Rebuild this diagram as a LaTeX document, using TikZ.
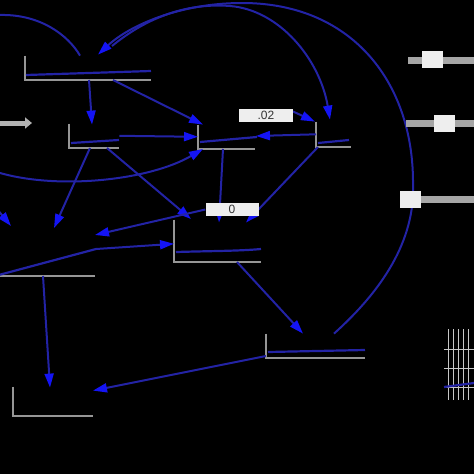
\documentclass[tikz,border=0pt]{standalone}
\usepackage{fontspec}
\setmainfont{Liberation Sans}
\usetikzlibrary{arrows.meta,positioning}
\definecolor{flowline}{RGB}{35,35,165}
\definecolor{flowhead}{RGB}{20,20,245}
\definecolor{axisgray}{RGB}{150,150,150}
\definecolor{boxwhite}{RGB}{238,238,238}

\begin{document}
\begin{tikzpicture}[x=1pt,y=-1pt,
  flow/.style={flowline, line width=2pt, -{Triangle[length=14pt,width=9pt,color=flowhead]}},
  axes/.style={axisgray, line width=1.3pt},
  trace/.style={flowline, line width=2.2pt},
  panel/.style={draw=none, inner sep=0pt, anchor=south west},
  numbox/.style={fill=boxwhite, inner sep=0pt, minimum width=54pt, minimum height=12.5pt,
    font=\fontsize{12}{12}\selectfont, text=black!80},
  knob/.style={fill=boxwhite, inner sep=0pt, minimum width=21pt, minimum height=17pt},
  bar/.style={black!35, line width=7pt},
  grid line/.style={black!22, line width=0.9pt}]

  \useasboundingbox (0,0) rectangle (474,474);
  \fill[black] (0,0) rectangle (474,474);
  \clip (0,0) rectangle (474,474);

  % panels
  \node[panel, minimum width=126pt, minimum height=24pt] (A) at (25,80) {};
  \node[panel, minimum width=50pt, minimum height=24pt] (B) at (69,148) {};
  \node[panel, minimum width=57pt, minimum height=24pt] (C) at (198,149) {};
  \node[panel, minimum width=35pt, minimum height=25pt] (D) at (316,147) {};
  \node[panel, minimum width=87pt, minimum height=42pt] (E) at (174,262) {};
  \node[panel, minimum width=125pt, minimum height=30pt] (F) at (-30,276) {};
  \node[panel, minimum width=80pt, minimum height=29pt] (G) at (13,416) {};
  \node[panel, minimum width=99pt, minimum height=24pt] (H) at (266,358) {};
  \foreach \p in {A,B,C,D,E,F,G,H}
    \draw[axes] (\p.north west) -- (\p.south west) -- (\p.south east);

  % traces
  \draw[trace] (26,75) -- (151,71);
  \draw[trace] (71,143) -- (119,140);
  \draw[trace] (200,142) -- (257,137);
  \draw[trace] (318,143) -- (349,140);
  \draw[trace] (176,252) .. controls (210,251) and (240,251) .. (261,249);
  \draw[trace] (-5,276) -- (96,249) coordinate (Fend);
  \draw[trace] (268,352) -- (365,350);

  \coordinate (rate) at (266,115.5);
  \coordinate (zero) at (232,209.5);

  % connectors
  \draw[flowline, line width=2pt] (0,15) .. controls (40,14) and (68,35) .. ([xshift=55pt]A.north west);
  \draw[flow] (112,46) .. controls (150,15) and (190,3) .. (230,6)
    .. controls (280,10) and (320,60) .. ([xshift=14pt,yshift=2pt]D.north west);
  \draw[flow] ([xshift=68pt]H.north west) .. controls (388,285) and (416,235) .. (413,180)
    .. controls (412,80) and (350,2) .. (240,3)
    .. controls (180,3.5) and (130,25) .. ([xshift=73pt,yshift=1pt]A.north west);
  \draw[flow] ([xshift=64pt]A.south west) -- ([xshift=23pt,yshift=-1pt]B.north west);
  \draw[flow] ([xshift=88pt]A.south west) -- ([xshift=5pt]C.north west);
  \draw[flow] (B.east) -- (C.west);
  \draw[flow] (0,173) .. controls (60,190) and (150,180) .. ([xshift=5pt]C.south west);
  \draw[flow] ([xshift=21pt]B.south west) -- (54,228);
  \draw[flow] ([xshift=38pt]B.south west) -- (191,219);
  \draw[flow] (-8,203) -- (11,226);
  \draw[flow] (D.west) -- (256,136);
  \draw[flow] ([xshift=25pt]C.south west) -- ([xshift=-13pt,yshift=-13pt]zero);
  \draw[flow] ([xshift=2pt]D.south west) -- ([xshift=14pt,yshift=-13pt]zero);
  \draw[flow] ([xshift=27pt,yshift=4pt]rate) -- ([xshift=-1pt]D.north west);
  \draw[flow] (Fend) -- ([yshift=-3pt]E.west);
  \draw[flow] ([xshift=63pt]E.south west) -- ([xshift=37pt]H.north west);
  \draw[flow] ([xshift=73pt]F.south west) -- ([xshift=37pt,yshift=-1pt]G.north west);
  \draw[flow] ([yshift=2pt]H.south west) -- ([xshift=80pt,yshift=-4pt]G.north west);

  % number boxes over the arrow ends
  \node[numbox] (ratebox) at (rate) {.02};
  \node[numbox, minimum width=53pt, minimum height=13pt] (zerobox) at (zero) {0};
  \draw[flow] (zerobox.west) -- (95,235);

  % gray input arrow
  \draw[black!30, line width=5pt, -{Triangle[length=7pt,width=11pt]}] (-2,123) -- (32,123);

  % sliders
  \draw[bar] (408,60) -- (474,60);
  \node[knob] (knobA) at (432.5,59.5) {};
  \draw[bar] (406,123) -- (474,123);
  \node[knob] (knobB) at (444.5,123.5) {};
  \draw[bar] (400,199) -- (474,199);
  \node[knob] (knobC) at (410.5,199) {};

  % grid
  \foreach \x in {448,453,458,463,468}
    \draw[grid line] (\x,329) -- (\x,400);
  \foreach \y in {349,368,387}
    \draw[grid line] (444,\y) -- (474,\y);
  \draw[trace] (444,387) -- (474,383);
\end{tikzpicture}
\end{document}
